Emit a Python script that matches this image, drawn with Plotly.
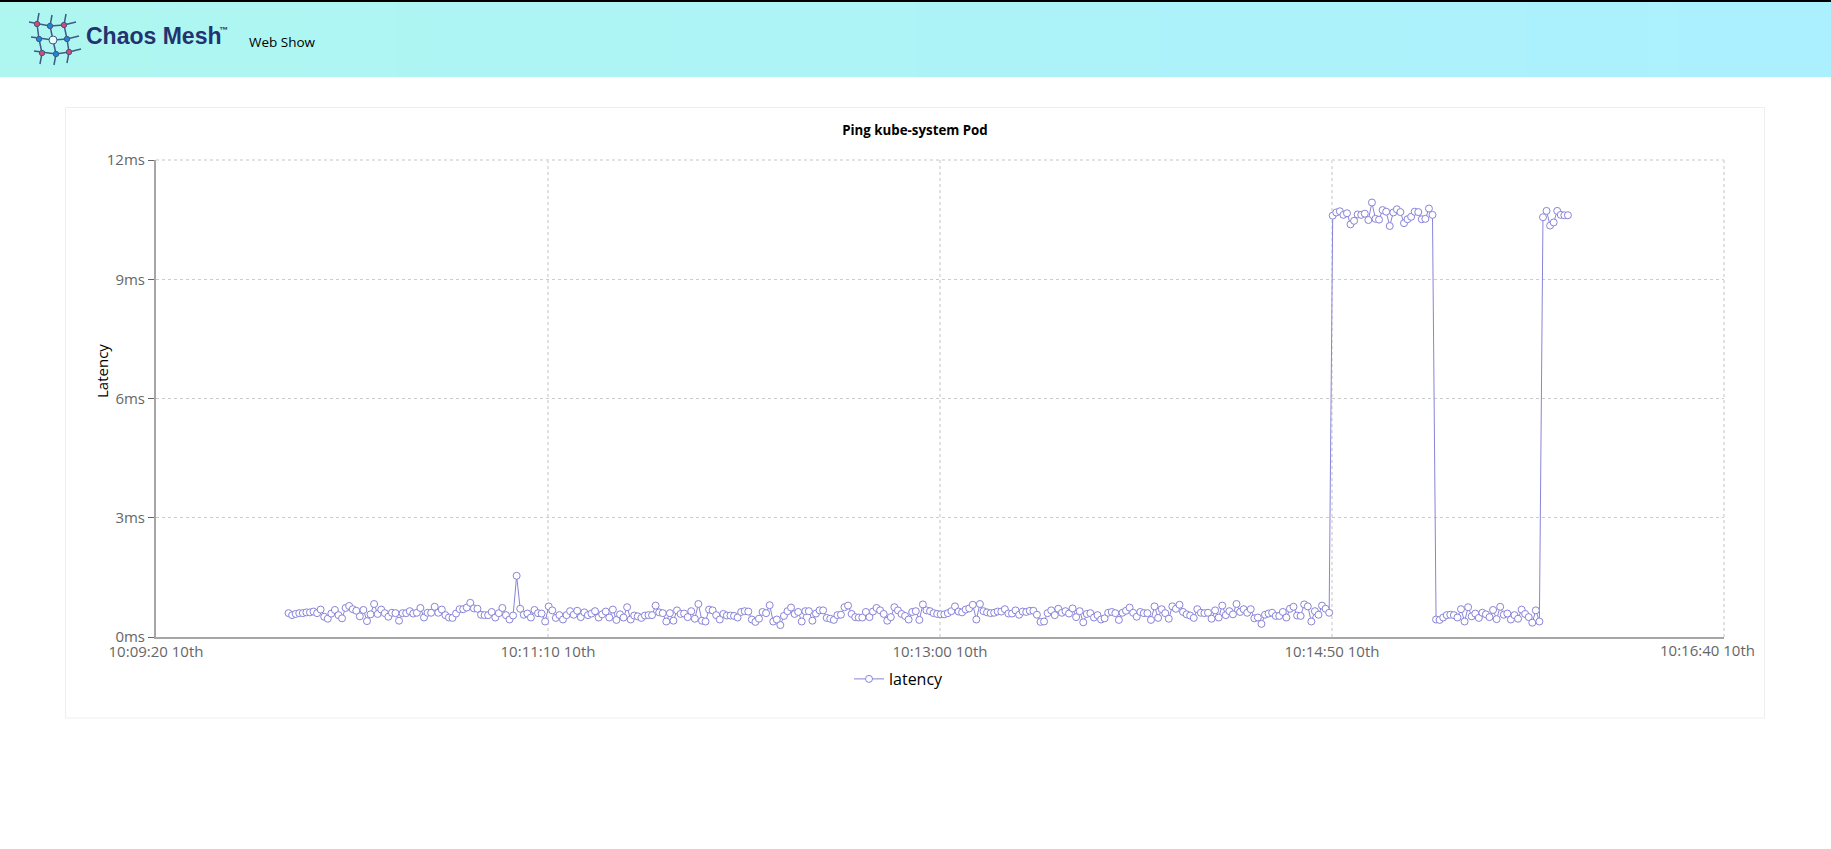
import pandas as pd
import plotly.graph_objects as go

TITLE = "Ping kube-system Pod"
SERIES_NAME = "latency"
Y_TITLE = "Latency"
Y_TICKS = [0, 3, 6, 9, 12]
Y_LABELS = ["0ms", "3ms", "6ms", "9ms", "12ms"]
X_TICKS = ["2020-06-10 10:09:20", "2020-06-10 10:11:10", "2020-06-10 10:13:00", "2020-06-10 10:14:50", "2020-06-10 10:16:40"]
X_LABELS = ["10:09:20 10th", "10:11:10 10th", "10:13:00 10th", "10:14:50 10th", "10:16:40 10th"]
START_TIME = "2020-06-10 10:09:57.2"

low_1 = [0.60,0.55,0.58,0.60,0.60,0.62,0.62,0.64,0.60,0.69,0.51,0.46,0.59,0.68,0.55,0.47,0.73,0.78,0.70,0.66,
0.52,0.68,0.40,0.57,0.83,0.58,0.69,0.60,0.51,0.61,0.60,0.41,0.60,0.60,0.65,0.59,0.61,0.73,0.49,0.61,
0.61,0.76,0.61,0.69,0.55,0.49,0.48,0.59,0.70,0.70,0.74,0.86,0.72,0.71,0.56,0.55,0.55,0.63,0.49,0.60,
0.73,0.55,0.44,0.54,1.54,0.71,0.56,0.59,0.49,0.68,0.60,0.59,0.39,0.77,0.67,0.48,0.55,0.44,0.55,0.65,
0.56,0.66,0.50,0.62,0.55,0.59,0.65,0.49,0.57,0.64,0.49,0.69,0.43,0.57,0.49,0.75,0.44,0.54,0.52,0.48,
0.54,0.55,0.55,0.79,0.62,0.60,0.39,0.60,0.41,0.67,0.58,0.59,0.50,0.65,0.46,0.83,0.41,0.39,0.69]
low_2 = [0.67,0.55,0.44,0.58,0.54,0.54,0.53,0.49,0.63,0.65,0.64,0.44,0.38,0.46,0.63,0.60,0.80,0.39,0.44,0.30,
0.53,0.65,0.74,0.58,0.63,0.39,0.65,0.65,0.41,0.59,0.67,0.67,0.48,0.46,0.43,0.55,0.56,0.75,0.79,0.58,
0.50,0.49,0.49,0.63,0.50,0.64,0.73,0.67,0.58,0.41,0.50,0.75,0.67,0.58,0.53,0.44,0.63,0.65,0.43,0.82,
0.67,0.65,0.60,0.58,0.57,0.57,0.60,0.65,0.77,0.64,0.62,0.69,0.72,0.81,0.44,0.83,0.65,0.62,0.60,0.61,
0.64,0.64,0.70,0.59,0.59,0.67,0.56,0.64,0.63,0.66,0.66,0.56,0.38,0.39,0.60,0.67,0.55,0.71,0.61,0.65,
0.59,0.72,0.50,0.65,0.37,0.58,0.60,0.49,0.55,0.44,0.47,0.61,0.63,0.60,0.43,0.61,0.66,0.74,0.61,0.51,
0.63,0.60,0.60,0.43]
low_3 = [0.77,0.48,0.70,0.60,0.46,0.77,0.71,0.81,0.63,0.57,0.54,0.48,0.70,0.61,0.60,0.61,0.46,0.67,0.49,0.79,
0.55,0.65,0.57,0.83,0.63,0.70,0.61,0.70,0.47,0.49,0.33,0.56,0.59,0.61,0.53,0.53,0.63,0.49,0.71,0.76,
0.54,0.53,0.82,0.77,0.39,0.65,0.56,0.79,0.71,0.61]
high_1 = [10.60,10.68,10.71,10.62,10.66,10.38,10.47,10.63,10.62,10.65,10.49,10.93,10.52,10.50,10.74,10.70,
10.34,10.68,10.76,10.69,10.41,10.51,10.57,10.70,10.69,10.51,10.52,10.78,10.62]
low_4 = [0.44,0.43,0.49,0.55,0.56,0.55,0.49,0.70,0.39,0.75,0.52,0.59,0.48,0.61,0.57,0.50,0.68,0.45,0.76,0.56,
0.59,0.44,0.55,0.46,0.69,0.58,0.50,0.36,0.67,0.39]
high_2 = [10.56,10.72,10.35,10.43,10.72,10.62,10.61,10.61]

latency = low_1 + low_2 + low_3 + high_1 + low_4 + high_2
times = pd.date_range(START_TIME, periods=len(latency), freq="s")

L, R, T, B = 156, 1724, 160, 637
W, H = 1831, 849
px = lambda x: (x - L) / (R - L)
py = lambda y: (B - y) / (B - T)

shapes = []
def rect(x0, y0, x1, y1, fill=None, line=None, lw=0):
    shapes.append(dict(type="rect", xref="paper", yref="paper", x0=px(x0), x1=px(x1), y0=py(y0), y1=py(y1),
                       fillcolor=fill or "rgba(0,0,0,0)", line=dict(color=line or "rgba(0,0,0,0)", width=lw), layer="below"))
def seg(x0, y0, x1, y1, color="#3f5a86", lw=1.5, dash="solid", layer="above"):
    shapes.append(dict(type="line", xref="paper", yref="paper", x0=px(x0), x1=px(x1), y0=py(y0), y1=py(y1),
                       line=dict(color=color, width=lw, dash=dash), layer=layer))
def dot(x, y, fill, r=2.7):
    shapes.append(dict(type="circle", xref="paper", yref="paper", x0=px(x-r), x1=px(x+r), y0=py(y-r), y1=py(y+r),
                       fillcolor=fill, line=dict(color="#3f5a86", width=1), layer="above"))

# header gradient
steps = 60
c0, c1 = (174, 247, 240), (171, 240, 255)
for i in range(steps):
    t = i / (steps - 1)
    col = "rgb(%d,%d,%d)" % tuple(round(a + (b - a) * t) for a, b in zip(c0, c1))
    rect(i * W / steps, 0, (i + 1) * W / steps + 1, 77, fill=col)
rect(0, 0, W, 2, fill="#000000")
# card
rect(65.5, 107.5, 1764.5, 718, fill="#ffffff", line="#eeeeee", lw=1)
# grid lines on the plot edges, which the axes leave out
seg(L, T, R, T, color="#e2e2e2", lw=2, dash="3px,3px", layer="below")
seg(R, T, R, B, color="#e2e2e2", lw=2, dash="3px,3px", layer="below")

# logo
grid = [[(37,24),(50,26),(64,25)], [(39,39),(53,40),(67,39)], [(42,53),(56,54),(69,52)]]
for row in grid:
    a, b, c = row
    seg(a[0]-8, a[1]-2, b[0], b[1]); seg(b[0], b[1], c[0], c[1]); seg(c[0], c[1], c[0]+12, c[1]-3)
for j in range(3):
    a, b, c = grid[0][j], grid[1][j], grid[2][j]
    seg(a[0]+2, a[1]-11, a[0], a[1]); seg(a[0], a[1], b[0], b[1]); seg(b[0], b[1], c[0], c[1]); seg(c[0], c[1], c[0]-2, c[1]+11)
cols = [["#d9486e","#1e88d8","#d9486e"], ["#1e88d8","#eafcfa","#1e88d8"], ["#d9486e","#1e88d8","#d9486e"]]
for row, rc in zip(grid, cols):
    for (x, y), f in zip(row, rc):
        dot(x, y, f, 4 if f == "#eafcfa" else 2.7)

def note(x, y, text, size, color="#000000", family="Open Sans", xanchor="left", angle=0):
    return dict(xref="paper", yref="paper", x=px(x), y=py(y), text=text, showarrow=False, xanchor=xanchor,
                yanchor="middle", textangle=angle, font=dict(size=size, color=color, family=family))

annotations = [
    note(84, 36, "<b>Chaos Mesh</b>", 23, "#22336f", "Liberation Sans"),
    note(217, 30, "<b>™</b>", 9, "#22336f", "Liberation Sans"),
    note(247, 42, "Web Show", 13.5),
    note(102, 371, Y_TITLE, 15, xanchor="center", angle=-90),
    # the last tick label sits pulled in from the plot's right edge
    note(1707, 650, X_LABELS[-1], 15, "#666666", xanchor="center"),
]

fig = go.Figure(go.Scatter(
    x=times, y=latency, mode="lines+markers", name=SERIES_NAME, cliponaxis=False,
    line=dict(color="#8884d8", width=1),
    marker=dict(symbol="circle", size=7, color="#ffffff", line=dict(color="#8884d8", width=1)),
))
fig.update_layout(
    width=W, height=H, margin=dict(l=L, r=W - R, t=T, b=H - B, autoexpand=False),
    paper_bgcolor="#ffffff", plot_bgcolor="rgba(0,0,0,0)",
    font=dict(family="Open Sans", size=15, color="#666666"),
    title=dict(text="<b>%s</b>" % TITLE, x=915 / W, y=1 - 130 / H, xanchor="center", yanchor="middle",
               font=dict(size=13.3, color="#000000", family="Open Sans")),
    showlegend=True,
    legend=dict(orientation="h", x=px(849), y=py(679), xanchor="left", yanchor="middle",
                font=dict(size=16, color="#000000"), bgcolor="rgba(0,0,0,0)"),
    xaxis=dict(type="date", range=[X_TICKS[0], X_TICKS[-1]], tickmode="array", tickvals=X_TICKS,
               ticktext=X_LABELS[:-1] + [""],
               showgrid=True, gridcolor="#e2e2e2", griddash="3px,3px", gridwidth=2,
               showline=True, linecolor="#a6a6a6", linewidth=2, ticks="", tickfont=dict(size=15, color="#666666")),
    yaxis=dict(range=[0, 12], tickmode="array", tickvals=Y_TICKS, ticktext=Y_LABELS, showgrid=True, gridcolor="#cccccc",
               griddash="3px,3px", gridwidth=1, zeroline=False, showline=True, linecolor="#a6a6a6", linewidth=2,
               ticks="outside", ticklen=6, tickcolor="#666666", tickfont=dict(size=15, color="#666666")),
    shapes=shapes, annotations=annotations,
)
fig.write_html("out.html", config=dict(displayModeBar=False),
               post_script="document.body.style.margin='0';document.body.style.overflow='hidden';")
